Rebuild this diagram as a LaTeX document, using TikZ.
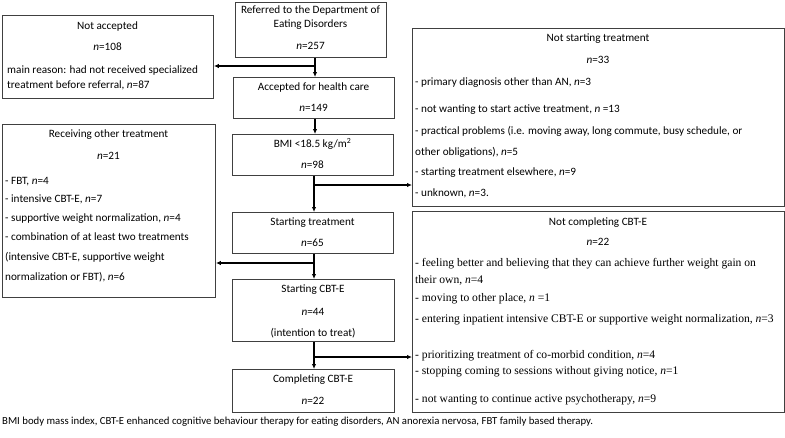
\documentclass[tikz,border=0pt]{standalone}
\usepackage{fontspec}
\setmainfont{Carlito}
\newfontfamily\tms{Liberation Serif}
\usetikzlibrary{arrows.meta}
\begin{document}
\begin{tikzpicture}[x=1pt,y=-1pt,
  box/.style={draw=black!75, line width=0.9pt, inner sep=0pt, anchor=north west},
  arr/.style={line width=1.4pt, -{Latex[length=5pt,width=4.5pt]}},
  ln/.style={line width=1.4pt},
  ct/.style={inner sep=0pt, anchor=mid, font=\fontsize{11.2}{13}\selectfont},
  lt/.style={inner sep=0pt, anchor=mid west, font=\fontsize{11.2}{13}\selectfont},
  st/.style={inner sep=0pt, anchor=mid west, font=\fontsize{11.6}{13}\selectfont\tms},
  fn/.style={inner sep=0pt, anchor=mid west, font=\fontsize{10.75}{12}\selectfont}]
\useasboundingbox[fill=white] (0,0) rectangle (785,437);

% boxes
\node[box, minimum width=151pt, minimum height=55pt] (ref) at (235,2) {};
\node[box, minimum width=211pt, minimum height=83pt] (notacc) at (2,15) {};
\node[box, minimum width=161pt, minimum height=41pt] (acc) at (233,77) {};
\node[box, minimum width=161pt, minimum height=41pt] (bmi) at (232,134) {};
\node[box, minimum width=161pt, minimum height=41pt] (start) at (232,212) {};
\node[box, minimum width=213pt, minimum height=173pt] (recv) at (2,124) {};
\node[box, minimum width=162pt, minimum height=62pt] (scbt) at (232,279) {};
\node[box, minimum width=162pt, minimum height=43pt] (comp) at (232,369) {};
\node[box, minimum width=372pt, minimum height=178pt] (notstart) at (412,28) {};
\node[box, minimum width=372pt, minimum height=201pt] (notcomp) at (412,211) {};

% texts
\node[ct] (r1) at (310.5,11) {Referred to the Department of};
\node[ct] (r2) at (310.5,25) {Eating Disorders};
\node[ct] (r3) at (310.5,47) {\textit{n}=257};

\node[ct] (na1) at (107.5,27) {Not accepted};
\node[ct] (na2) at (107.5,48) {\textit{n}=108};
\node[lt] (na3) at (7,71) {main reason: had not received specialized};
\node[lt] (na4) at (7,86) {treatment before referral, \textit{n}=87};

\node[ct] (a1) at (313.5,88) {Accepted for health care};
\node[ct] (a2) at (313.5,109) {\textit{n}=149};

\node[ct] (b1) at (312.5,145) {BMI <18.5 kg/m\textsuperscript{2}};
\node[ct] (b2) at (312.5,166) {\textit{n}=98};

\node[ct] (s1) at (312.5,223) {Starting treatment};
\node[ct] (s2) at (312.5,244) {\textit{n}=65};

\node[ct] (c1) at (313,290) {Starting CBT-E};
\node[ct] (c2) at (313,313) {\textit{n}=44};
\node[ct] (c3) at (313,334) {(intention to treat)};

\node[ct] (d1) at (313,380) {Completing CBT-E};
\node[ct] (d2) at (313,402) {\textit{n}=22};

\node[ct] (o1) at (108.5,135) {Receiving other treatment};
\node[ct] (o2) at (108.5,157) {\textit{n}=21};
\node[lt] (o3) at (5,182) {- FBT, \textit{n}=4};
\node[lt] (o4) at (5,200) {- intensive CBT-E, \textit{n}=7};
\node[lt] (o5) at (5,219) {- supportive weight normalization, \textit{n}=4};
\node[lt] (o6) at (5,238) {- combination of at least two treatments};
\node[lt] (o7) at (5,258) {(intensive CBT-E, supportive weight};
\node[lt] (o8) at (5,278) {normalization or FBT), \textit{n}=6};

\node[ct] (ns1) at (598,39) {Not starting treatment};
\node[ct] (ns2) at (598,61) {\textit{n}=33};
\node[lt] (ns3) at (415,83) {- primary diagnosis other than AN, \textit{n}=3};
\node[lt] (ns4) at (415,110) {- not wanting to start active treatment, \textit{n} =13};
\node[lt] (ns5) at (415,132) {- practical problems (i.e. moving away, long commute, busy schedule, or};
\node[lt] (ns6) at (415,153) {other obligations), \textit{n}=5};
\node[lt] (ns7) at (415,173) {- starting treatment elsewhere, \textit{n}=9};
\node[lt] (ns8) at (415,194) {- unknown, \textit{n}=3.};

\node[ct] (nc1) at (598,223) {Not completing CBT-E};
\node[ct] (nc2) at (598,243) {\textit{n}=22};
\node[st] (nc3) at (415,264) {- feeling better and believing that they can achieve further weight gain on};
\node[st] (nc4) at (415,281) {their own, \textit{n}=4};
\node[st] (nc5) at (415,299) {- moving to other place, \textit{n} =1};
\node[st] (nc6) at (415,320) {- entering inpatient intensive CBT-E or supportive weight normalization, \textit{n}=3};
\node[st] (nc7) at (415,356) {- prioritizing treatment of co-morbid condition, \textit{n}=4};
\node[st] (nc8) at (415,372) {- stopping coming to sessions without giving notice, \textit{n}=1};
\node[st] (nc9) at (415,400) {- not wanting to continue active psychotherapy, \textit{n}=9};

\node[fn] (foot) at (2,422) {BMI body mass index, CBT-E enhanced cognitive behaviour therapy for eating disorders, AN anorexia nervosa, FBT family based therapy.};

% junctions
\coordinate (j1) at (315,66);
\coordinate (j3) at (314,185);
\coordinate (j4) at (314,263);
\coordinate (j5) at (314,357);

% connectors
\draw[ln] (ref.south -| j1) -- (j1);
\draw[arr] (j1) -- (acc.north -| j1);
\draw[arr] (j1) -- (notacc.east |- j1);
\draw[arr] (acc.south -| j1) -- (bmi.north -| j1);
\draw[ln] (bmi.south -| j3) -- (j3);
\draw[arr] (j3) -- (start.north -| j3);
\draw[arr] (j3) -- (notstart.west |- j3);
\draw[ln] (start.south -| j4) -- (j4);
\draw[arr] (j4) -- (scbt.north -| j4);
\draw[arr] (j4) -- (recv.east |- j4);
\draw[ln] (scbt.south -| j5) -- (j5);
\draw[arr] (j5) -- (comp.north -| j5);
\draw[arr] (j5) -- (notcomp.west |- j5);
\end{tikzpicture}
\end{document}
